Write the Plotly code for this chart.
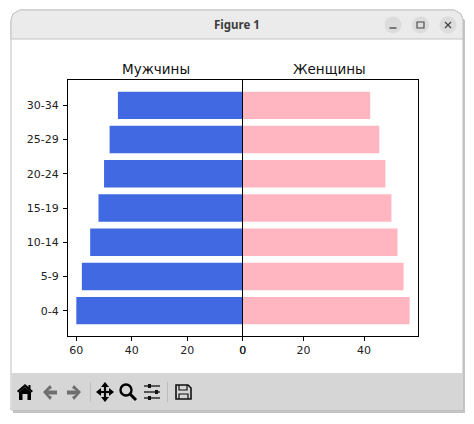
import plotly.graph_objects as go

W, H = 474, 424
age_groups = ["0-4", "5-9", "10-14", "15-19", "20-24", "25-29", "30-34"]
male_values = [60, 58, 55, 52, 50, 48, 45]
female_values = [55, 53, 51, 49, 47, 45, 42]
male_ticks = [60, 40, 20, 0]
female_ticks = [0, 20, 40]


def X(p):
    return p / W


def Y(p):
    return 1 - p / H


def P(points, close=True):
    s = "M" + " L".join(f"{X(x):.5f},{Y(y):.5f}" for x, y in points)
    return s + (" Z" if close else "")


shapes = []


def rect(x0, y0, x1, y1, fill, line=None, layer="below"):
    shapes.append(dict(type="rect", xref="paper", yref="paper", x0=X(x0), x1=X(x1), y0=Y(y0), y1=Y(y1),
                       fillcolor=fill, line=dict(width=0 if line is None else 1, color=line or fill), layer=layer))


def poly(points, fill=None, line=None, width=1.0, close=True, layer="above"):
    shapes.append(dict(type="path", xref="paper", yref="paper", path=P(points, close),
                       fillcolor=fill if fill else "rgba(0,0,0,0)",
                       line=dict(width=width if line else 0, color=line or "rgba(0,0,0,0)"), layer=layer))


def circle(cx, cy, r, fill=None, line=None, width=1.0):
    shapes.append(dict(type="circle", xref="paper", yref="paper", x0=X(cx - r), x1=X(cx + r), y0=Y(cy - r), y1=Y(cy + r),
                       fillcolor=fill if fill else "rgba(0,0,0,0)",
                       line=dict(width=width if line else 0, color=line or "rgba(0,0,0,0)"), layer="above"))


# window chrome
poly([(13, 20), (19, 13), (456, 13), (465, 20), (465, 413), (13, 413)], "#c4c4c4", layer="below")
poly([(11, 410), (11, 20), (13, 14), (20, 10), (454, 10), (461, 14), (463, 20), (463, 410)],
     "#ffffff", "#bdbdbd", layer="below")
poly([(11, 39), (11, 20), (13, 14), (20, 10), (454, 10), (461, 14), (463, 20), (463, 39)],
     "#ebebeb", "#c4c4c4", layer="below")
rect(11.5, 373, 462.5, 410, "#d6d6d6")
for bx in (393, 420.5, 448):
    circle(bx, 25, 8.5, "#dcdcdc")
poly([(389.5, 28), (396.5, 28)], line="#444444", width=1.3, close=False)
poly([(417, 22), (424, 22), (424, 28), (417, 28)], line="#444444", width=1.1)
poly([(445, 22), (451, 28)], line="#444444", width=1.2, close=False)
poly([(451, 22), (445, 28)], line="#444444", width=1.2, close=False)

# toolbar icons
poly([(19, 400), (19, 392), (25, 387), (31, 392), (31, 400), (27.5, 400), (27.5, 394), (22.5, 394), (22.5, 400)], "#000000")
poly([(25, 384), (17, 391), (18.5, 392.5), (25, 387), (31.5, 392.5), (33, 391), (30.5, 389), (30.5, 385), (28.5, 385), (28.5, 387)], "#000000")
grey = "#6f6f6f"
poly([(43, 392), (50, 385), (52, 388), (48, 390.5), (57, 390.5), (57, 394.5), (48, 394.5), (52, 397), (50, 400)], grey)
poly([(81, 392), (74, 385), (72, 388), (76, 390.5), (67, 390.5), (67, 394.5), (76, 394.5), (72, 397), (74, 400)], grey)
rect(90, 382, 91, 402, "#bcbcbc", layer="above")
poly([(98, 392), (112, 392)], line="#000000", width=2.2, close=False)
poly([(105, 385), (105, 399)], line="#000000", width=2.2, close=False)
poly([(105, 382), (101, 387), (109, 387)], "#000000")
poly([(105, 402), (101, 397), (109, 397)], "#000000")
poly([(96, 392), (101, 388), (101, 396)], "#000000")
poly([(114, 392), (109, 388), (109, 396)], "#000000")
circle(126, 390, 5.5, None, "#000000", 2.4)
poly([(130, 394), (136, 400)], line="#000000", width=3, close=False)
for yy in (386, 392, 398):
    poly([(144, yy), (160, yy)], line="#111111", width=1.3, close=False)
rect(148, 384, 151, 388, "#111111", layer="above")
rect(155, 390, 158, 394, "#111111", layer="above")
rect(148, 396, 151, 400, "#111111", layer="above")
rect(167, 382, 168, 402, "#bcbcbc", layer="above")
poly([(176, 385), (188, 385), (191, 388), (191, 399), (176, 399)], None, "#111111", 1.6)
poly([(179, 385), (179, 390), (187, 390), (187, 385)], None, "#111111", 1.2, close=False)
poly([(179, 399), (179, 394), (188, 394), (188, 399)], None, "#111111", 1.2, close=False)

fig = go.Figure()
fig.add_bar(y=age_groups, x=male_values, orientation="h", width=0.8, marker=dict(color="#4169e1", line_width=0),
            xaxis="x", yaxis="y")
fig.add_bar(y=age_groups, x=female_values, orientation="h", width=0.8, marker=dict(color="#ffb6c1", line_width=0),
            xaxis="x2", yaxis="y2")

base = dict(showgrid=False, zeroline=False, automargin=False, showline=True, linecolor="#000000", linewidth=1)
xframe = dict(base, mirror=True, ticks="outside", ticklen=4, tickcolor="#000000", tickwidth=1)
tick_font = dict(family="DejaVu Sans", size=11, color="#222222")
yrange = [-0.74, 6.74]
fig.update_layout(
    width=W, height=H, autosize=False, margin=dict(l=0, r=0, t=0, b=0, autoexpand=False),
    paper_bgcolor="#ffffff", plot_bgcolor="#ffffff", showlegend=False, shapes=shapes,
    xaxis=dict(domain=[X(68), X(242.7)], range=[63, 0], tickmode="array", tickvals=male_ticks,
               ticktext=[str(v) for v in male_ticks], tickfont=tick_font, anchor="y", **xframe),
    xaxis2=dict(domain=[X(242.7), X(418)], range=[0, 57.75], tickmode="array", tickvals=female_ticks,
                ticktext=[str(v) for v in female_ticks], tickfont=tick_font, anchor="y2", **xframe),
    yaxis=dict(domain=[Y(336), Y(80)], type="category", categoryorder="array", categoryarray=age_groups,
               range=yrange, tickfont=tick_font, anchor="x", mirror=False, ticks="outside", ticklen=4,
               tickcolor="#000000", tickwidth=1, ticklabelstandoff=2, **base),
    yaxis2=dict(domain=[Y(336), Y(80)], type="category", categoryorder="array", categoryarray=age_groups,
                range=yrange, showticklabels=False, anchor="x2", mirror=True, ticks="", **base),
    annotations=[
        dict(text="Мужчины", x=X(155.5), y=Y(68.5), xref="paper", yref="paper", showarrow=False,
             xanchor="center", yanchor="middle",
             font=dict(family="DejaVu Sans", size=13.5, color="#111111")),
        dict(text="Женщины", x=X(329.7), y=Y(68.5), xref="paper", yref="paper", showarrow=False,
             xanchor="center", yanchor="middle",
             font=dict(family="DejaVu Sans", size=13.5, color="#111111")),
        dict(text="<b>Figure 1</b>", x=X(236.5), y=Y(24.5), xref="paper", yref="paper", showarrow=False,
             xanchor="center", yanchor="middle",
             font=dict(family="Noto Sans", size=11.5, color="#3d3d3d")),
    ],
)

fig.write_html("out.html", config=dict(displayModeBar=False),
               post_script="document.body.style.margin='0';document.body.style.overflow='hidden';")
